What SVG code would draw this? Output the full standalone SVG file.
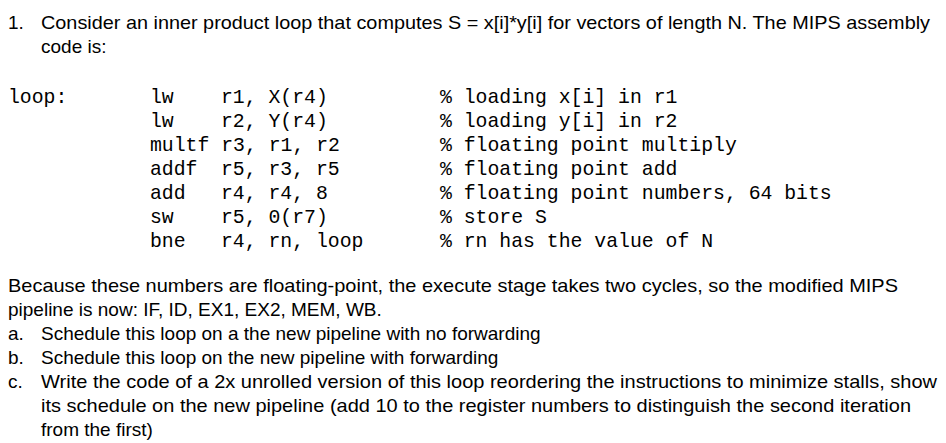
<svg xmlns="http://www.w3.org/2000/svg" width="946" height="443" viewBox="0 0 946 443">
<style>
.t{font-family:"Liberation Sans",Arial,sans-serif;font-size:19px;fill:#000}
.m{font-family:"Liberation Mono","Courier New",monospace;font-size:19.8px;fill:#000}
</style>
<rect width="946" height="443" fill="#fff"/>
<g id="question">
<text class="t" x="8" y="29">1.</text>
<text class="t" x="41" y="29" textLength="889" lengthAdjust="spacingAndGlyphs">Consider an inner product loop that computes S = x[i]*y[i] for vectors of length N. The MIPS assembly</text>
<text class="t" x="41" y="53">code is:</text>
</g>
<g id="code">
<text class="m" x="8" y="103">loop:</text>
<text class="m" x="150" y="103">lw</text><text class="m" x="221" y="103">r1, X(r4)</text><text class="m" x="440" y="103">% loading x[i] in r1</text>
<text class="m" x="150" y="127">lw</text><text class="m" x="221" y="127">r2, Y(r4)</text><text class="m" x="440" y="127">% loading y[i] in r2</text>
<text class="m" x="150" y="151">multf r3, r1, r2</text><text class="m" x="440" y="151">% floating point multiply</text>
<text class="m" x="150" y="175">addf</text><text class="m" x="221" y="175">r5, r3, r5</text><text class="m" x="440" y="175">% floating point add</text>
<text class="m" x="150" y="199">add</text><text class="m" x="221" y="199">r4, r4, 8</text><text class="m" x="440" y="199">% floating point numbers, 64 bits</text>
<text class="m" x="150" y="223">sw</text><text class="m" x="221" y="223">r5, 0(r7)</text><text class="m" x="440" y="223">% store S</text>
<text class="m" x="150" y="247">bne</text><text class="m" x="221" y="247">r4, rn, loop</text><text class="m" x="440" y="247">% rn has the value of N</text>
</g>
<g id="body">
<text class="t" x="8" y="292" textLength="890" lengthAdjust="spacingAndGlyphs">Because these numbers are floating-point, the execute stage takes two cycles, so the modified MIPS</text>
<text class="t" x="8" y="316">pipeline is now: IF, ID, EX1, EX2, MEM, WB.</text>
<text class="t" x="8" y="340">a.</text><text class="t" x="41" y="340">Schedule this loop on a the new pipeline with no forwarding</text>
<text class="t" x="8" y="364">b.</text><text class="t" x="41" y="364">Schedule this loop on the new pipeline with forwarding</text>
<text class="t" x="8" y="388">c.</text><text class="t" x="41" y="388" textLength="896" lengthAdjust="spacingAndGlyphs">Write the code of a 2x unrolled version of this loop reordering the instructions to minimize stalls, show</text>
<text class="t" x="41" y="412" textLength="870" lengthAdjust="spacingAndGlyphs">its schedule on the new pipeline (add 10 to the register numbers to distinguish the second iteration</text>
<text class="t" x="41" y="436">from the first)</text>
</g>
</svg>
